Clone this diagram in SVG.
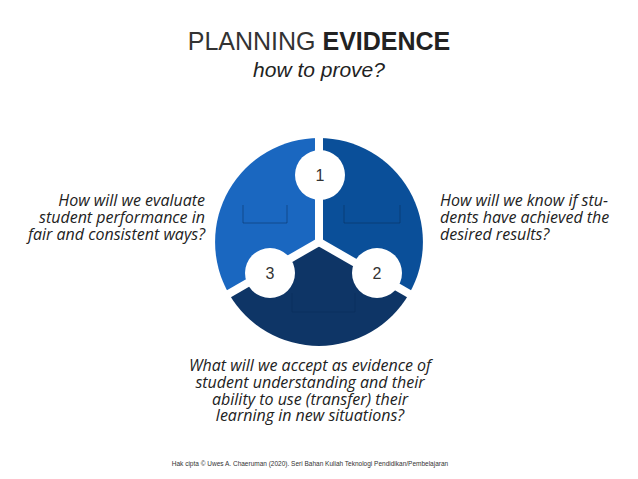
<svg xmlns="http://www.w3.org/2000/svg" width="638" height="479" viewBox="0 0 638 479">
<style>
.q{font-family:"Open Sans","DejaVu Sans",sans-serif;font-style:italic;font-size:16px;fill:#222}
.n{font-family:"Liberation Sans",Arial,sans-serif;font-size:16px;fill:#333;text-anchor:middle}
.ph{fill:none;stroke:#0a2c58;stroke-width:1;opacity:.5}
</style>
<rect width="638" height="479" fill="#fff"/>
<g id="title">
<text x="319" y="50" text-anchor="middle" font-family="Liberation Sans,Arial,sans-serif" font-size="25" fill="#333">PLANNING <tspan font-weight="bold" fill="#222">EVIDENCE</tspan></text>
<text x="319" y="77" text-anchor="middle" font-family="Liberation Sans,Arial,sans-serif" font-style="italic" font-size="21" fill="#222">how to prove?</text>
</g>
<g id="wheel">
<path d="M319,242 L319,138 A104,104 0 0 0 229,294 Z" fill="#1a67c0"/>
<path d="M319,242 L319,138 A104,104 0 0 1 409,294 Z" fill="#0a4f99"/>
<path d="M319,242 L409,294 A104,104 0 0 1 229,294 Z" fill="#0e3566"/>
<g stroke="#fff" stroke-width="8"><line x1="319" y1="242" x2="319" y2="130"/><line x1="319" y1="242" x2="225" y2="296"/><line x1="319" y1="242" x2="413" y2="296"/></g>
<path class="ph" d="M243,205 V223 H287 V205 M344,205 V223 H400 V205 M292,293 V312 H355 V293"/>
</g>
<g id="n1"><circle cx="320" cy="175" r="25" fill="#fff"/><text class="n" x="320" y="181">1</text></g>
<g id="n2"><circle cx="377" cy="273" r="25" fill="#fff"/><text class="n" x="377" y="279">2</text></g>
<g id="n3"><circle cx="270" cy="273" r="25" fill="#fff"/><text class="n" x="270" y="279">3</text></g>
<g id="left"><text class="q" text-anchor="end"><tspan x="205" y="206">How will we evaluate</tspan><tspan x="205" y="223">student performance in</tspan><tspan x="205" y="240">fair and consistent ways?</tspan></text></g>
<g id="right"><text class="q"><tspan x="440" y="206">How will we know if stu-</tspan><tspan x="440" y="223">dents have achieved the</tspan><tspan x="440" y="240">desired results?</tspan></text></g>
<g id="bottom"><text class="q" text-anchor="middle"><tspan x="310" y="371">What will we accept as evidence of</tspan><tspan x="310" y="388">student understanding and their</tspan><tspan x="310" y="405">ability to use (transfer) their</tspan><tspan x="310" y="421">learning in new situations?</tspan></text></g>
<text x="310" y="466" text-anchor="middle" font-family="Liberation Sans,Arial,sans-serif" font-size="6.5" fill="#333">Hak cipta © Uwes A. Chaeruman (2020). Seri Bahan Kuliah Teknologi Pendidikan/Pembelajaran</text>
</svg>
